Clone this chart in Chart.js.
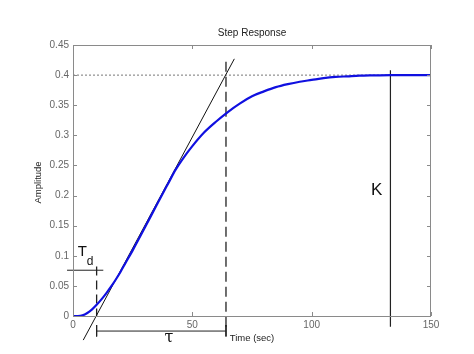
<!DOCTYPE html>
<html>
<head>
<meta charset="utf-8">
<script src="https://cdn.jsdelivr.net/npm/chart.js@4/dist/chart.umd.min.js"></script>
<style>
  html, body { margin: 0; padding: 0; background: #ffffff; }
  #wrap { width: 474px; height: 354px; }
</style>
</head>
<body>
<div id="wrap"><canvas id="c" width="474" height="354"></canvas></div>
<script>
// ---- data ----
const stepTime = [0, 2, 4, 6, 8, 10, 12, 14, 16, 18, 20, 22, 25, 30, 35, 40, 43, 46, 50, 55, 60, 65, 70, 75, 80, 85, 90, 95, 100, 105, 110, 115, 120, 125, 133, 140, 150];
const stepAmplitude = [0, 0, 0.001, 0.005, 0.011, 0.019, 0.028, 0.038, 0.049, 0.061, 0.074, 0.088, 0.109, 0.146, 0.184, 0.221, 0.243, 0.261, 0.282, 0.305, 0.323, 0.339, 0.353, 0.365, 0.373, 0.380, 0.385, 0.389, 0.392, 0.395, 0.397, 0.398, 0.399, 0.3995, 0.4, 0.4, 0.4];

const steadyTime = [0, 150];
const steadyAmplitude = [0.4, 0.4];

const tangentTime = [4.3, 67.6];
const tangentAmplitude = [-0.040, 0.427];

const tdMarkTime = [9.9, 9.9];
const tdMarkAmplitude = [0.082, 0];
const tdBarTime = [-2.5, 12.7];
const tdBarAmplitude = [0.076, 0.076];

const tauMarkTime = [64.1, 64.1];
const tauMarkAmplitude = [0.422, -0.025];
const tauArrowTime = [9.9, 64.1];
const tauArrowAmplitude = [-0.025, -0.025];
const tauLeftTickTime = [9.9, 9.9];
const tauRightTickTime = [64.1, 64.1];
const tauTickAmplitude = [-0.015, -0.034];

const kLineTime = [133, 133];
const kLineAmplitude = [0.408, -0.018];

const xTickValues = [0, 50, 100, 150];
const yTickValues = [0, 0.05, 0.1, 0.15, 0.2, 0.25, 0.3, 0.35, 0.4, 0.45];
const xTickLabels = ['0', '50', '100', '150'];
const yTickLabels = ['0', '0.05', '0.1', '0.15', '0.2', '0.25', '0.3', '0.35', '0.4', '0.45'];

const chartTitle = 'Step Response';
const xTitle = 'Time (sec)';
const yTitle = 'Amplitude';
const tdLabelMain = 'T';
const tdLabelSub = 'd';
const tauLabel = 'τ';
const kLabel = 'K';

// ---- helpers ----
const pts = (xs, ys) => xs.map((x, i) => ({ x: x, y: ys[i] }));
const FONT = 'Arial, "Liberation Sans", sans-serif';

function lineSet(xs, ys, color, width, dash, order) {
  return {
    data: pts(xs, ys),
    borderColor: color,
    borderWidth: width,
    borderDash: dash || [],
    pointRadius: 0,
    fill: false,
    tension: 0,
    clip: false,
    order: order
  };
}

const decor = {
  id: 'decor',
  afterDatasetsDraw(chart) {
    const ctx = chart.ctx;
    const xs = chart.scales.x, ys = chart.scales.y;
    const a = chart.chartArea;
    ctx.save();
    // box
    ctx.strokeStyle = '#8a8a8a';
    ctx.lineWidth = 1;
    ctx.strokeRect(Math.round(a.left) + 0.5, Math.round(a.top) + 0.5, Math.round(a.right - a.left) - 1, Math.round(a.bottom - a.top));
    // inward ticks
    const tl = 4;
    ctx.beginPath();
    xTickValues.forEach(v => {
      const px = Math.round(xs.getPixelForValue(v)) + 0.5;
      ctx.moveTo(px, a.bottom); ctx.lineTo(px, a.bottom - tl);
      ctx.moveTo(px, a.top); ctx.lineTo(px, a.top + tl);
    });
    yTickValues.forEach(v => {
      const py = Math.round(ys.getPixelForValue(v)) + 0.5;
      ctx.moveTo(a.left, py); ctx.lineTo(a.left + tl, py);
      ctx.moveTo(a.right, py); ctx.lineTo(a.right - tl, py);
    });
    ctx.stroke();

    // titles
    ctx.fillStyle = '#222';
    ctx.textAlign = 'center';
    ctx.textBaseline = 'middle';
    ctx.font = '10px ' + FONT;
    ctx.fillText(chartTitle, (a.left + a.right) / 2, 33);
    ctx.font = '9.5px ' + FONT;
    ctx.fillText(xTitle, (a.left + a.right) / 2, 338);
    ctx.save();
    ctx.translate(38, (a.top + a.bottom) / 2 + 2);
    ctx.rotate(-Math.PI / 2);
    ctx.font = '9.5px ' + FONT;
    ctx.fillText(yTitle, 0, 0);
    ctx.restore();

    // annotation labels
    ctx.fillStyle = '#111';
    ctx.font = '15px ' + FONT;
    ctx.fillText(tdLabelMain, xs.getPixelForValue(3.9), ys.getPixelForValue(0.106));
    ctx.font = '12px ' + FONT;
    ctx.fillText(tdLabelSub, xs.getPixelForValue(7.2), ys.getPixelForValue(0.090));
    ctx.font = '17px ' + FONT;
    ctx.fillText(kLabel, xs.getPixelForValue(127.2), ys.getPixelForValue(0.209));
    ctx.font = '16px "DejaVu Serif", "Liberation Serif", serif';
    ctx.fillText(tauLabel, xs.getPixelForValue(40.2), ys.getPixelForValue(-0.037));
    ctx.restore();
  }
};

new Chart(document.getElementById('c'), {
  type: 'line',
  data: {
    datasets: [
      Object.assign(lineSet(stepTime, stepAmplitude, '#1010e0', 2.2, [], 0), { cubicInterpolationMode: 'monotone' }),
      lineSet(tangentTime, tangentAmplitude, '#111111', 1, [], 1),
      lineSet(steadyTime, steadyAmplitude, '#777777', 1, [2, 2], 2),
      lineSet(tdMarkTime, tdMarkAmplitude, '#222222', 1.3, [9, 5], 3),
      lineSet(tdBarTime, tdBarAmplitude, '#222222', 1, [], 4),
      lineSet(tauMarkTime, tauMarkAmplitude, '#222222', 1.3, [10, 5], 5),
      lineSet(tauArrowTime, tauArrowAmplitude, '#222222', 1, [], 6),
      lineSet(tauLeftTickTime, tauTickAmplitude, '#222222', 1, [], 7),
      lineSet(tauRightTickTime, tauTickAmplitude, '#222222', 1, [], 8),
      lineSet(kLineTime, kLineAmplitude, '#222222', 1.2, [], 9)
    ]
  },
  options: {
    responsive: false,
    animation: false,
    devicePixelRatio: 1,
    layout: { padding: { top: 45, right: 43, left: 0, bottom: 0 } },
    plugins: { legend: { display: false }, tooltip: { enabled: false }, title: { display: false } },
    scales: {
      x: {
        type: 'linear', min: 0, max: 150,
        afterBuildTicks: s => { s.ticks = xTickValues.map(v => ({ value: v })); },
        afterFit: s => { s.height = 38; },
        ticks: {
          padding: 3, color: '#666', font: { size: 10, family: FONT },
          maxRotation: 0, autoSkip: false,
          callback: (v) => xTickLabels[xTickValues.indexOf(v)]
        },
        grid: { display: false, drawTicks: false },
        border: { display: false }
      },
      y: {
        type: 'linear', min: 0, max: 0.45,
        afterBuildTicks: s => { s.ticks = yTickValues.map(v => ({ value: v })); },
        afterFit: s => { s.width = 73; },
        ticks: {
          padding: 4, color: '#666', font: { size: 10, family: FONT },
          autoSkip: false,
          callback: (v) => { const i = yTickValues.findIndex(t => Math.abs(t - v) < 1e-9); return i >= 0 ? yTickLabels[i] : ''; }
        },
        grid: { display: false, drawTicks: false },
        border: { display: false }
      }
    }
  },
  plugins: [decor]
});
</script>
</body>
</html>
